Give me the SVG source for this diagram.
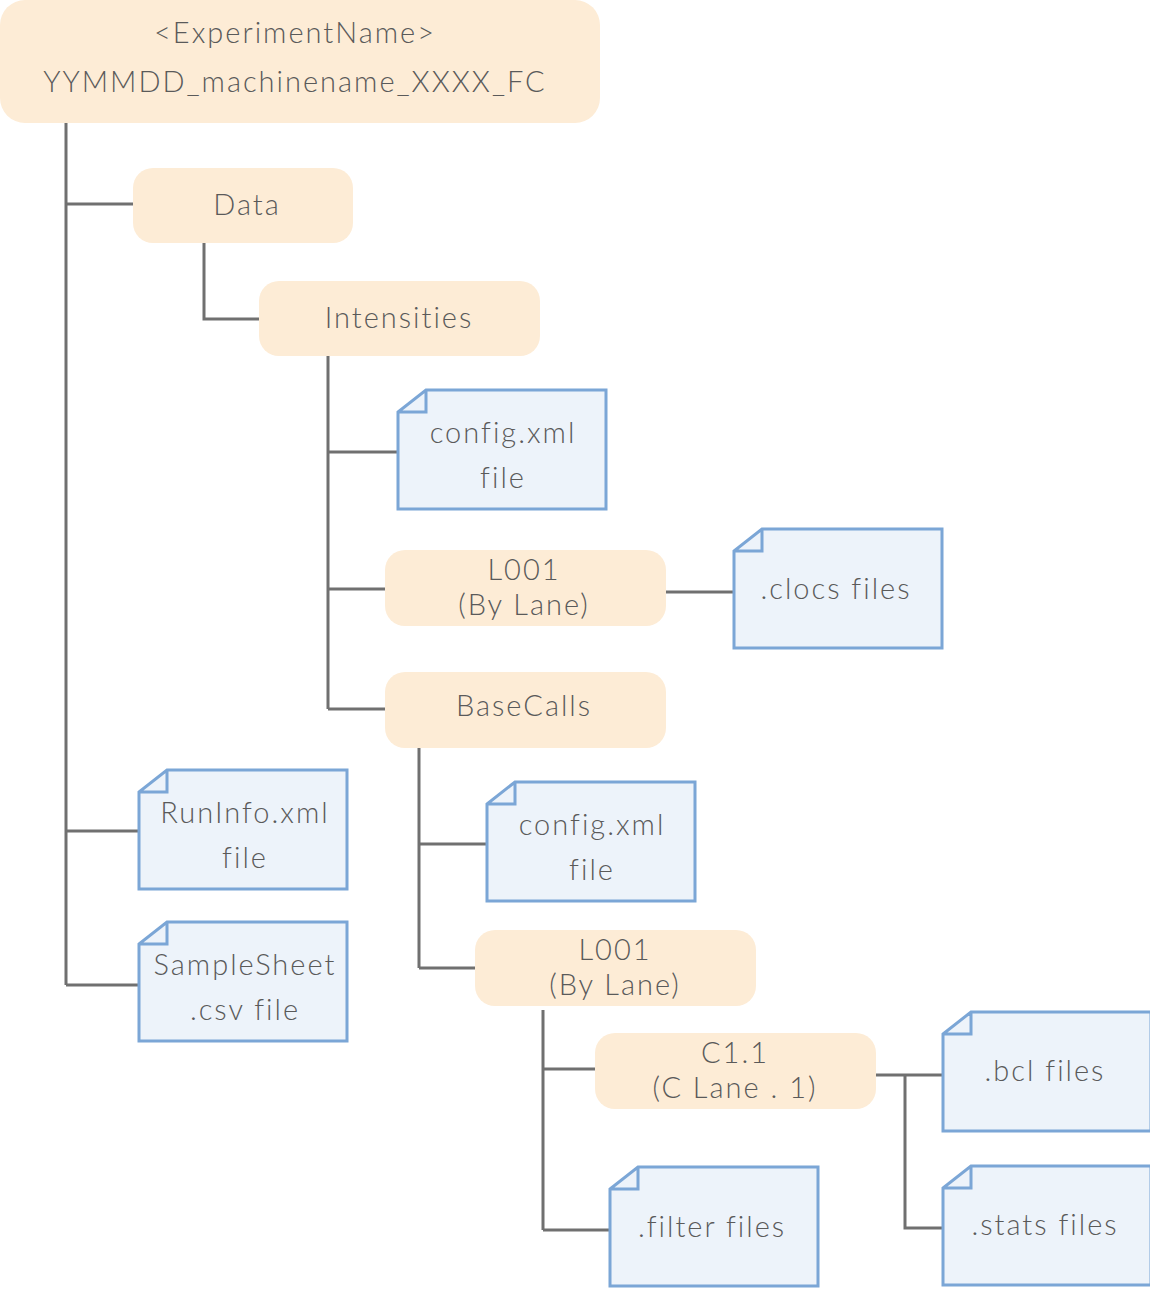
<svg xmlns="http://www.w3.org/2000/svg" width="1150" height="1304" viewBox="0 0 1150 1304">
<style>
.f{fill:#fdecd6}
.d{fill:#edf3fa;stroke:#7ba6d6;stroke-width:3}
.c{stroke:#707070;stroke-width:3;fill:none}
text{font-family:Lato,"Liberation Sans",sans-serif;font-size:29px;font-weight:300;letter-spacing:2px;fill:#5a5a5a;text-anchor:middle;font-variant-ligatures:none}
</style>
<rect width="1150" height="1304" fill="#fff"/>
<g id="connectors" class="c">
<path d="M66 123V985M66 204H133M66 831H139M66 985H139"/>
<path d="M204 243V319H259"/>
<path d="M328 356V709M328 452H398M328 589H385M328 709H385M666 592H734"/>
<path d="M419 748V968M419 844H487M419 968H475"/>
<path d="M543 1010V1230M543 1069H595M543 1230H610"/>
<path d="M876 1075H943M905 1075V1228H943"/>
</g>
<g id="root"><rect class="f" x="0" y="0" width="600" height="123" rx="25"/><text x="295" y="43">&lt;ExperimentName&gt;</text><text x="295" y="92">YYMMDD_machinename_XXXX_FC</text></g>
<g id="data"><rect class="f" x="133" y="168" width="220" height="75" rx="20"/><text x="247" y="215">Data</text></g>
<g id="intensities"><rect class="f" x="259" y="281" width="281" height="75" rx="20"/><text x="399" y="328">Intensities</text></g>
<g id="l001a"><rect class="f" x="385" y="550" width="281" height="76" rx="20"/><text x="524" y="580">L001</text><text x="524" y="615">(By Lane)</text></g>
<g id="basecalls"><rect class="f" x="385" y="672" width="281" height="76" rx="20"/><text x="524" y="716">BaseCalls</text></g>
<g id="l001b"><rect class="f" x="475" y="930" width="281" height="76" rx="20"/><text x="615" y="960">L001</text><text x="615" y="995">(By Lane)</text></g>
<g id="c11"><rect class="f" x="595" y="1033" width="281" height="76" rx="20"/><text x="735" y="1063">C1.1</text><text x="735" y="1098">(C Lane . 1)</text></g>
<defs><path id="doc" d="M28 0H208V119H0V22ZM28 0V22H0"/></defs>
<g id="config1"><use href="#doc" class="d" x="398" y="390"/><text x="503" y="443">config.xml</text><text x="503" y="488">file</text></g>
<g id="clocs"><use href="#doc" class="d" x="734" y="529"/><text x="836" y="599">.clocs files</text></g>
<g id="runinfo"><use href="#doc" class="d" x="139" y="770"/><text x="245" y="823">RunInfo.xml</text><text x="245" y="868">file</text></g>
<g id="samplesheet"><use href="#doc" class="d" x="139" y="922"/><text x="245" y="975" letter-spacing="1">SampleSheet</text><text x="245" y="1020">.csv file</text></g>
<g id="config2"><use href="#doc" class="d" x="487" y="782"/><text x="592" y="835">config.xml</text><text x="592" y="880">file</text></g>
<g id="filter"><use href="#doc" class="d" x="610" y="1167"/><text x="712" y="1237">.filter files</text></g>
<g id="bcl"><use href="#doc" class="d" x="943" y="1012"/><text x="1045" y="1081">.bcl files</text></g>
<g id="stats"><use href="#doc" class="d" x="943" y="1166"/><text x="1045" y="1235">.stats files</text></g>
</svg>
